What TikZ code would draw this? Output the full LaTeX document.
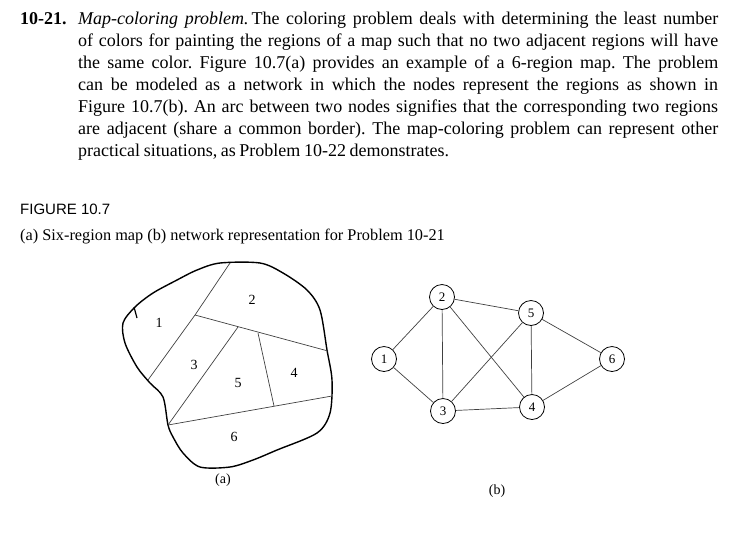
\documentclass[tikz,border=0pt]{standalone}
\usepackage{fontspec}
\setmainfont{Liberation Serif}
\setsansfont{Liberation Sans}
\begin{document}
\frenchspacing
\begin{tikzpicture}[x=1pt,y=-1pt,
  nd/.style={circle,draw,line width=0.8pt,minimum size=25pt,inner sep=0pt,font=\fontsize{13}{13}\selectfont},
  ed/.style={draw,black!75,line width=0.7pt},
  txt/.style={anchor=base west,inner sep=0pt,font=\fontsize{18}{20}\selectfont},
  lab/.style={font=\fontsize{14}{14}\selectfont}]
\useasboundingbox (0,0) rectangle (754,547);
\newcommand\jl[1]{\hbox to 640pt{\spaceskip=0.2em plus 1em minus 0.1em #1}}
\node[txt] (h) at (20,24) {\textbf{10-21.}};
\node[txt] (l1) at (78,24) {\jl{\textit{Map-coloring problem.}\,The coloring problem deals with determining the least number}};
\node[txt] (l2) at (78,46) {\jl{of colors for painting the regions of a map such that no two adjacent regions will have}};
\node[txt] (l3) at (78,68) {\jl{the same color. Figure 10.7(a) provides an example of a 6-region map. The problem}};
\node[txt] (l4) at (78,90) {\jl{can be modeled as a network in which the nodes represent the regions as shown in}};
\node[txt] (l5) at (78,112) {\jl{Figure 10.7(b). An arc between two nodes signifies that the corresponding two regions}};
\node[txt] (l6) at (78,134) {\jl{are adjacent (share a common border). The map-coloring problem can represent other}};
\node[txt] (l7) at (78,156) {\spaceskip=0.2em practical situations, as Problem 10-22 demonstrates.};
\node[anchor=base west,inner sep=0pt,font=\sffamily\fontsize{15}{15}\selectfont] (fig) at (20,214) {FIGURE 10.7};
\node[anchor=base west,inner sep=0pt,font=\fontsize{16.3}{16}\selectfont] (cap) at (20,240) {(a) Six-region map (b) network representation for Problem 10-21};
% map
\draw[line width=1.4pt,line join=round] plot[smooth cycle,tension=0.5] coordinates {
(220,263)(260,263)(283,273)(307,290)(320,310)(327,350)(332,380)(330,413)(317,433)(277,450)(253,460)(230,467)(200,467)(183,453)(173,437)(168,425)(163,397)(150,383)(137,367)(125,343)(123,323)(135,307)(153,293)(177,280)(197,270)};
\draw[line width=1.2pt] (134,307) -- (137,318);
\draw[ed] (230,263) -- (195,315) -- (148,380);
\draw[ed] (195,315) -- (328,351);
\draw[ed] (238,327) -- (168,425);
\draw[ed] (258,333) -- (274,406);
\draw[ed] (168,425) -- (332,396);
\node[lab] (r1) at (159,323) {1};
\node[lab] (r2) at (252,300) {2};
\node[lab] (r3) at (194,365) {3};
\node[lab] (r5) at (238,383) {5};
\node[lab] (r4) at (294,373) {4};
\node[lab] (r6) at (234,437) {6};
\node[lab] (pa) at (223,480) {(a)};
% network
\node[nd] (n1) at (384,359) {1};
\node[nd] (n2) at (442,297) {2};
\node[nd] (n5) at (531,313) {5};
\node[nd] (n6) at (612,359) {6};
\node[nd] (n3) at (443,411) {3};
\node[nd] (n4) at (532,407) {4};
\foreach \a/\b in {n1/n2,n1/n3,n2/n3,n2/n5,n2/n4,n3/n5,n3/n4,n5/n4,n5/n6,n4/n6}
  \draw[ed] (\a) -- (\b);
\node[lab] (pb) at (497,491) {(b)};
\end{tikzpicture}
\end{document}
